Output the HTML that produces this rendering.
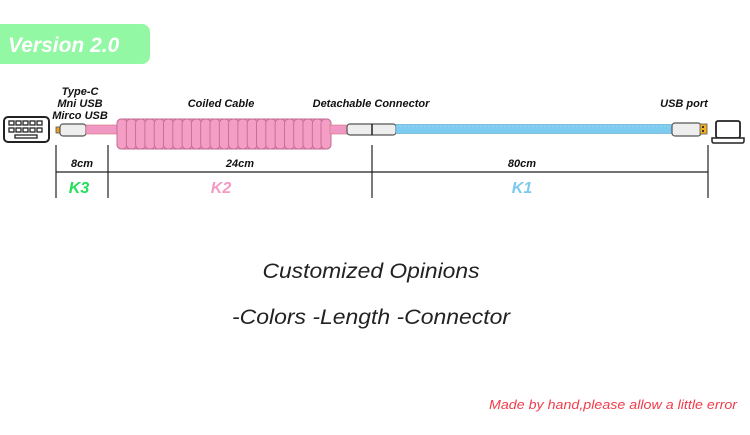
<!DOCTYPE html>
<html><head><meta charset="utf-8"><style>
html,body{margin:0;padding:0;background:#fff;width:750px;height:435px;overflow:hidden}
svg{display:block}
text{font-family:"Liberation Sans",sans-serif;font-style:italic}
</style></head><body>
<svg width="750" height="435" viewBox="0 0 750 435" xmlns="http://www.w3.org/2000/svg">
<rect x="-10" y="24" width="160" height="40" rx="8" fill="#92f8a3"/>
<text x="8" y="52" font-size="21" font-weight="bold" fill="#fff">Version 2.0</text>

<!-- keyboard -->
<rect x="4" y="117" width="45" height="25" rx="4" fill="#fff" stroke="#222" stroke-width="2"/>
<g fill="none" stroke="#222" stroke-width="1.3">
<rect x="9" y="121" width="5" height="4"/><rect x="16" y="121" width="5" height="4"/><rect x="23" y="121" width="5" height="4"/><rect x="30" y="121" width="5" height="4"/><rect x="37" y="121" width="5" height="4"/>
<rect x="9" y="128" width="5" height="4"/><rect x="16" y="128" width="5" height="4"/><rect x="23" y="128" width="5" height="4"/><rect x="30" y="128" width="5" height="4"/><rect x="37" y="128" width="5" height="4"/>
<rect x="15" y="135" width="22" height="3"/></g>

<!-- left plug -->
<rect x="56" y="127" width="5" height="6" fill="#e8a21a" stroke="#555" stroke-width="0.8"/>
<rect x="60" y="124" width="26" height="12" rx="3" fill="#eee" stroke="#555" stroke-width="1.2"/>
<rect x="86" y="125" width="33" height="9" fill="#f197c3" stroke="#c77" stroke-width="0.6"/>

<!-- coil -->
<g fill="#f49ec6" stroke="#c36a93" stroke-width="0.9">
<rect x="117" y="119" width="214" height="30" rx="4" fill="#f49ec6"/>
</g>
<g fill="#f49ec6" stroke="#c36a93" stroke-width="0.9" id="coil">
<rect x="117.0" y="119" width="10" height="30" rx="4.5"/><rect x="126.3" y="119" width="10" height="30" rx="4.5"/><rect x="135.6" y="119" width="10" height="30" rx="4.5"/><rect x="144.9" y="119" width="10" height="30" rx="4.5"/><rect x="154.2" y="119" width="10" height="30" rx="4.5"/><rect x="163.5" y="119" width="10" height="30" rx="4.5"/><rect x="172.8" y="119" width="10" height="30" rx="4.5"/><rect x="182.1" y="119" width="10" height="30" rx="4.5"/><rect x="191.4" y="119" width="10" height="30" rx="4.5"/><rect x="200.7" y="119" width="10" height="30" rx="4.5"/><rect x="210.0" y="119" width="10" height="30" rx="4.5"/><rect x="219.3" y="119" width="10" height="30" rx="4.5"/><rect x="228.6" y="119" width="10" height="30" rx="4.5"/><rect x="237.9" y="119" width="10" height="30" rx="4.5"/><rect x="247.2" y="119" width="10" height="30" rx="4.5"/><rect x="256.5" y="119" width="10" height="30" rx="4.5"/><rect x="265.8" y="119" width="10" height="30" rx="4.5"/><rect x="275.1" y="119" width="10" height="30" rx="4.5"/><rect x="284.4" y="119" width="10" height="30" rx="4.5"/><rect x="293.7" y="119" width="10" height="30" rx="4.5"/><rect x="303.0" y="119" width="10" height="30" rx="4.5"/><rect x="312.3" y="119" width="10" height="30" rx="4.5"/><rect x="321.0" y="119" width="10" height="30" rx="4.5"/>
</g>
<rect x="330" y="125" width="18" height="9" fill="#f197c3" stroke="#c77" stroke-width="0.6"/>

<!-- detachable connector -->
<rect x="347" y="124" width="49" height="11" rx="3" fill="#eee" stroke="#555" stroke-width="1.2"/>
<line x1="372" y1="124" x2="372" y2="135" stroke="#222" stroke-width="1.5"/>

<!-- blue cable -->
<rect x="396" y="124.5" width="277" height="9" fill="#7ecbf0" stroke="#5aa7cc" stroke-width="0.6"/>
<line x1="396" y1="126.5" x2="673" y2="126.5" stroke="#a8dcf5" stroke-width="0.6" stroke-dasharray="2 2"/>
<rect x="672" y="123" width="29" height="13" rx="3" fill="#eee" stroke="#555" stroke-width="1.2"/>
<rect x="700" y="124" width="7" height="10" fill="#f0b020" stroke="#555" stroke-width="0.8"/>
<rect x="702" y="126" width="2" height="2" fill="#333"/><rect x="702" y="130" width="2" height="2" fill="#333"/>

<!-- laptop -->
<rect x="716" y="121" width="24" height="17" rx="2" fill="#fff" stroke="#222" stroke-width="1.8"/>
<path d="M712 138 H744 V141 Q744 143 742 143 H714 Q712 143 712 141 Z" fill="#fff" stroke="#222" stroke-width="1.5"/>

<!-- dimension lines -->
<g stroke="#222" stroke-width="1.2">
<line x1="56" y1="145" x2="56" y2="198"/>
<line x1="108" y1="145" x2="108" y2="198"/>
<line x1="372" y1="145" x2="372" y2="198"/>
<line x1="708" y1="145" x2="708" y2="198"/>
<line x1="56" y1="172" x2="708" y2="172"/>
</g>

<g font-size="11" font-weight="bold" fill="#111" text-anchor="middle">
<text x="80" y="95">Type-C</text>
<text x="80" y="107">Mni USB</text>
<text x="80" y="119">Mirco USB</text>
<text x="221" y="107">Coiled Cable</text>
<text x="371" y="107">Detachable Connector</text>
<text x="684" y="107">USB port</text>
<text x="82" y="167">8cm</text>
<text x="240" y="167">24cm</text>
<text x="522" y="167">80cm</text>
</g>
<g font-size="16" font-weight="bold" text-anchor="middle">
<text x="79" y="193" fill="#22e05a">K3</text>
<text x="221" y="193" fill="#f59ac4">K2</text>
<text x="522" y="193" fill="#7cc9ef">K1</text>
</g>

<text x="371" y="278" font-size="21" fill="#222" text-anchor="middle" textLength="217" lengthAdjust="spacingAndGlyphs">Customized Opinions</text>
<text x="371" y="324" font-size="21" fill="#222" text-anchor="middle" textLength="278" lengthAdjust="spacingAndGlyphs">-Colors -Length -Connector</text>
<text x="613" y="409" font-size="13" fill="#f03c4a" text-anchor="middle" textLength="248" lengthAdjust="spacingAndGlyphs">Made by hand,please allow a little error</text>
</svg>
</body></html>
